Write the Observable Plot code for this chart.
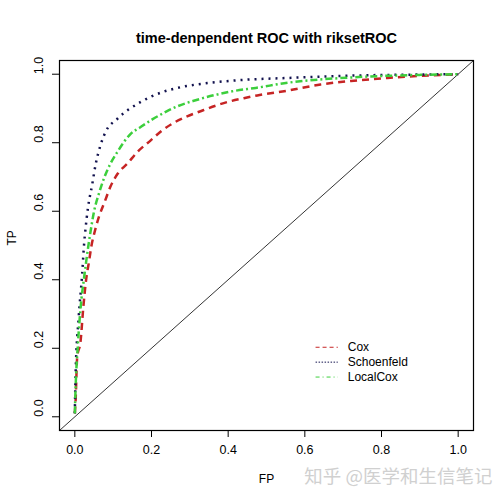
<!DOCTYPE html>
<html>
<head>
<meta charset="utf-8">
<script src="https://cdn.jsdelivr.net/npm/d3@7"></script>
<script src="https://cdn.jsdelivr.net/npm/@observablehq/plot@0.6"></script>
<style>
  body { margin: 0; background: #fff; }
  #chart svg { display: block; }
</style>
</head>
<body>
<div id="chart"></div>
<script>
// ROC curves
const coxFP = [0, 0.002, 0.006, 0.015, 0.022, 0.030, 0.037, 0.043, 0.052, 0.063, 0.078, 0.093, 0.112, 0.137, 0.163, 0.198, 0.228, 0.258, 0.293, 0.328, 0.367, 0.402, 0.441, 0.476, 0.555, 0.641, 0.728, 0.816, 0.90, 1]
const coxTP = [0.01, 0.047, 0.172, 0.221, 0.318, 0.405, 0.453, 0.497, 0.541, 0.584, 0.628, 0.672, 0.710, 0.739, 0.773, 0.807, 0.836, 0.858, 0.877, 0.892, 0.908, 0.920, 0.930, 0.938, 0.952, 0.970, 0.981, 0.989, 0.995, 1]

const schFP = [0, 0.002, 0.010, 0.019, 0.024, 0.028, 0.034, 0.045, 0.054, 0.067, 0.080, 0.111, 0.172, 0.224, 0.276, 0.346, 0.433, 0.555, 0.728, 0.90, 1]
const schTP = [0.01, 0.125, 0.289, 0.415, 0.502, 0.550, 0.608, 0.676, 0.735, 0.793, 0.831, 0.870, 0.919, 0.946, 0.962, 0.974, 0.983, 0.989, 0.996, 0.999, 1]

const locFP = [0, 0.002, 0.008, 0.015, 0.024, 0.032, 0.041, 0.050, 0.063, 0.076, 0.093, 0.111, 0.128, 0.145, 0.172, 0.202, 0.237, 0.267, 0.315, 0.372, 0.415, 0.472, 0.555, 0.728, 0.90, 1]
const locTP = [0.01, 0.085, 0.211, 0.318, 0.405, 0.473, 0.541, 0.599, 0.652, 0.696, 0.739, 0.773, 0.802, 0.825, 0.846, 0.868, 0.890, 0.906, 0.924, 0.941, 0.951, 0.960, 0.975, 0.991, 0.998, 1]

const seriesNames = ['Cox', 'Schoenfeld', 'LocalCox']
const ticks = [0, 0.2, 0.4, 0.6, 0.8, 1.0]
const dom = [-0.04, 1.04]

const colors = {Cox: '#c62424', Schoenfeld: '#12124e', LocalCox: '#3ccf3c'}
const dashes = {Cox: '7,5', Schoenfeld: '2,5', LocalCox: '7,3,2,3'}
const legendDash = {Cox: '4,3', Schoenfeld: '1.5,1.5', LocalCox: '4,3,1,3'}

const toRows = (fp, tp, name) => fp.map((x, i) => ({fp: x, tp: tp[i], name}))
const curves = [
  toRows(coxFP, coxTP, 'Cox'),
  toRows(schFP, schTP, 'Schoenfeld'),
  toRows(locFP, locTP, 'LocalCox')
]
const diag = dom.map(v => ({fp: v, tp: v}))

// legend rows (layout in data units, inside the frame)
const legendRows = seriesNames.map((name, i) => ({name, y: 0.203 - i * 0.0435}))

const font = '"Liberation Sans", Arial, sans-serif'

let chart = Plot.plot({
  width: 504,
  height: 504,
  marginLeft: 59,
  marginRight: 31,
  marginTop: 60,
  marginBottom: 74,
  x: {domain: dom},
  y: {domain: dom},
  style: {fontFamily: font, fontSize: 12, color: '#000', background: '#fff'},
  marks: [
    Plot.line(diag, {x: 'fp', y: 'tp', stroke: '#000', strokeWidth: 0.8}),
    ...curves.map(rows => Plot.line(rows, {
      x: 'fp', y: 'tp',
      curve: 'monotone-x',
      stroke: colors[rows[0].name],
      strokeWidth: 2.5,
      strokeDasharray: dashes[rows[0].name],
      strokeLinecap: 'butt'
    })),
    Plot.frame({stroke: '#000', strokeWidth: 1.2}),
    Plot.axisX({ticks, tickSize: 7, tickPadding: 8, tickFormat: '.1f', label: null, fontSize: 12.5}),
    Plot.axisY({ticks, tickSize: 7, text: null, label: null}),
    Plot.text(ticks, {frameAnchor: 'left', y: d => d, dx: -21, rotate: -90, text: d => d3.format('.1f')(d), fontSize: 12.5}),
    // legend
    ...legendRows.map(r => Plot.link([r], {
      x1: () => 0.628, x2: () => 0.686, y1: 'y', y2: 'y',
      stroke: colors[r.name], strokeWidth: 1, strokeDasharray: legendDash[r.name]
    })),
    Plot.text(legendRows, {x: () => 0.712, y: 'y', text: 'name', textAnchor: 'start', fontSize: 12}),
    // titles
    Plot.text(['time-denpendent ROC with riksetROC'], {frameAnchor: 'top', dy: -28, text: d => d, fontWeight: 'bold', fontSize: 14.5}),
    Plot.text(['FP'], {frameAnchor: 'bottom', dy: 52, text: d => d, fontSize: 12}),
    Plot.text(['TP'], {frameAnchor: 'left', dx: -47, rotate: -90, text: d => d, fontSize: 12}),
    Plot.text(['知乎 @医学和生信笔记'], {frameAnchor: 'bottom-right', dx: 19, dy: 52, textAnchor: 'end', text: d => d, fontSize: 18.5, fill: '#d0d0d0', fontFamily: '"Noto Sans CJK SC", sans-serif'})
  ]
})

d3.select('#chart').append(() => chart)
</script>
</body>
</html>
